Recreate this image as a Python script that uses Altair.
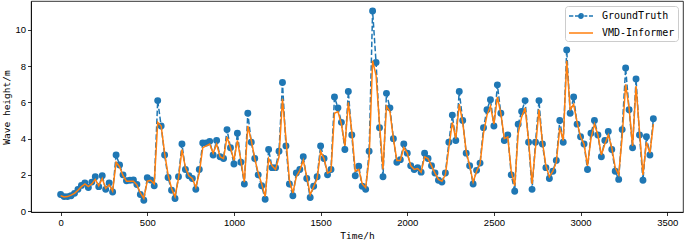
import altair as alt
import pandas as pd

# Significant wave height, one value every 20 h
STEP_H = 20
ground_truth = [
    0.92, 0.80, 0.80, 0.85, 0.98, 1.20, 1.42, 1.56, 1.30, 1.60,
    1.90, 1.35, 1.95, 1.20, 1.55, 1.05, 3.10, 2.55, 2.00, 1.68,
    1.70, 1.72, 1.47, 0.92, 0.60, 1.84, 1.72, 1.40, 6.10, 4.70,
    3.10, 1.85, 1.15, 0.70, 1.90, 3.70, 2.30, 1.95, 1.80, 1.20,
    2.30, 3.76, 3.76, 3.85, 3.10, 3.90, 3.00, 2.90, 4.50, 3.50,
    2.60, 4.30, 2.70, 1.50, 5.40, 3.80, 2.90, 2.00, 1.40, 0.65,
    3.40, 2.40, 2.40, 3.30, 7.10, 3.60, 1.50, 0.85, 2.10, 2.30,
    3.00, 1.80, 0.75, 1.37, 1.90, 3.60, 2.90, 2.00, 2.30, 6.30,
    5.70, 4.90, 3.40, 6.60, 4.20, 1.95, 2.48, 1.37, 1.20, 3.30,
    11.05, 8.20, 4.60, 1.90, 6.50, 5.70, 4.00, 2.70, 2.84, 3.70,
    3.20, 2.50, 2.30, 2.40, 2.15, 3.20, 2.90, 2.50, 2.10, 1.70,
    1.60, 2.10, 3.80, 5.30, 3.90, 6.60, 5.00, 3.20, 2.50, 1.50,
    2.25, 2.65, 4.60, 5.60, 6.15, 4.70, 6.97, 5.40, 3.90, 4.20,
    2.00, 1.10, 4.80, 5.50, 6.10, 3.80, 1.20, 3.80, 6.10, 3.70,
    2.40, 1.80, 2.20, 2.80, 5.00, 3.80, 8.90, 5.40, 6.30, 4.80,
    4.10, 3.70, 2.30, 4.30, 5.00, 4.20, 3.00, 3.90, 4.40, 3.40,
    2.20, 1.75, 4.50, 7.90, 5.60, 3.50, 7.30, 4.20, 1.70, 4.10,
    3.10, 5.10,
]
vmd_informer = [
    0.85, 0.78, 0.80, 0.88, 0.98, 1.15, 1.35, 1.50, 1.35, 1.50,
    1.75, 1.40, 1.80, 1.25, 1.45, 1.10, 2.70, 2.45, 1.95, 1.65,
    1.65, 1.65, 1.45, 1.00, 0.70, 1.65, 1.70, 1.50, 4.90, 4.70,
    3.20, 2.00, 1.25, 0.80, 1.80, 3.40, 2.40, 1.95, 1.80, 1.30,
    2.10, 3.50, 3.60, 3.70, 3.20, 3.70, 3.00, 2.90, 4.10, 3.50,
    2.80, 3.90, 2.80, 1.60, 4.70, 3.90, 2.90, 2.10, 1.50, 0.80,
    2.90, 2.50, 2.30, 3.00, 6.20, 4.00, 1.70, 1.00, 1.90, 2.25,
    2.80, 1.90, 0.90, 1.35, 1.80, 3.30, 2.90, 2.10, 2.20, 5.40,
    5.50, 4.80, 3.60, 6.00, 4.40, 2.20, 2.30, 1.50, 1.30, 2.90,
    8.30, 7.50, 4.80, 2.30, 5.80, 5.50, 4.00, 2.80, 2.80, 3.50,
    3.20, 2.50, 2.30, 2.35, 2.15, 3.00, 2.90, 2.50, 2.10, 1.75,
    1.65, 2.00, 3.50, 4.90, 4.00, 5.90, 4.90, 3.30, 2.50, 1.60,
    2.20, 2.60, 4.30, 5.30, 5.80, 4.80, 6.30, 5.40, 4.00, 4.10,
    2.20, 1.40, 4.30, 5.20, 5.70, 3.90, 1.50, 3.50, 5.60, 3.80,
    2.50, 1.90, 2.20, 2.70, 4.60, 3.90, 8.30, 5.60, 5.90, 4.90,
    4.10, 3.70, 2.50, 4.00, 4.80, 4.20, 3.10, 3.70, 4.20, 3.50,
    2.40, 2.00, 4.10, 7.00, 5.70, 3.60, 6.90, 4.40, 2.00, 3.80,
    3.20, 4.80,
]
series_names = ["GroundTruth", "VMD-Informer"]
series_colors = ["#1f77b4", "#ff7f0e"]
x_ticks = [0, 500, 1000, 1500, 2000, 2500, 3000, 3500]
y_ticks = [0, 2, 4, 6, 8, 10]

n = len(ground_truth)
hours = [STEP_H * i for i in range(n)]
df = pd.DataFrame({
    "hour": hours + hours[: len(vmd_informer)],
    "value": ground_truth + vmd_informer,
    "series": [series_names[0]] * n + [series_names[1]] * len(vmd_informer),
})

MONO = "DejaVu Sans Mono"
SANS = "Liberation Sans"

x_enc = alt.X(
    "hour:Q",
    scale=alt.Scale(domain=[-171, 3591], nice=False, zero=False),
    axis=alt.Axis(values=x_ticks, format="d", title="Time/h", titleY=23, titleBaseline="middle"),
)
y_enc = alt.Y(
    "value:Q",
    scale=alt.Scale(domain=[-0.05, 11.6], nice=False, zero=False),
    axis=alt.Axis(values=y_ticks, format="d", title="Wave height/m", titleX=-25, titleY=106,
                  titleBaseline="middle", titleAngle=270),
)


def ring(cx, r):
    return "M%g,0A%g,%g,0,1,1,%g,0A%g,%g,0,1,1,%g,0" % (cx + r, r, r, cx - r, r, r, cx + r)


# legend glyphs: dashed line with a dot marker, and a plain line
gt_path = "M-1,0H-0.28M0,0H0.55M1.55,0H2.05M2.33,0H3" + ring(1.0, 0.36) + ring(1.0, 0.14)
pred_path = "M-1,0H3"

legend = alt.Legend(
    title=None,
    orient="top-right",
    offset=5,
    padding=3,
    rowPadding=4,
    symbolSize=144,
    symbolStrokeWidth=1.5,
    symbolOpacity=1,
    labelOffset=20,
    labelFont=MONO,
    labelFontSize=10,
    labelColor="black",
    strokeColor="#cccccc",
    fillColor="rgba(255,255,255,0.8)",
    cornerRadius=3,
)

color_enc = alt.Color("series:N", scale=alt.Scale(domain=series_names, range=series_colors), legend=legend)
shape_enc = alt.Shape("series:N", scale=alt.Scale(domain=series_names, range=[gt_path, pred_path]), legend=legend)

base = alt.Chart(df)
gt = base.transform_filter(alt.datum.series == "GroundTruth")
pred = base.transform_filter(alt.datum.series == "VMD-Informer")

gt_line = gt.mark_line(strokeWidth=1.5, strokeDash=[5.5, 2.4], color=series_colors[0]).encode(x=x_enc, y=y_enc)
gt_pts = gt.mark_circle(size=48, opacity=1, color=series_colors[0]).encode(x=x_enc, y=y_enc)
pred_line = pred.mark_line(strokeWidth=1.5, color=series_colors[1]).encode(x=x_enc, y=y_enc)
# legend carrier: no rows survive the filter, the legend comes from the fixed scale domains
legend_layer = base.transform_filter("false").mark_point(filled=False, strokeWidth=1.5).encode(
    x=x_enc, y=y_enc, color=color_enc, shape=shape_enc
)

chart = (
    alt.layer(gt_line, gt_pts, pred_line, legend_layer)
    .properties(
        width=652,
        height=211,
        padding={"left": 31, "top": 1, "right": 2, "bottom": 28},
        autosize=alt.AutoSizeParams(type="none"),
        background="white",
    )
    .configure_view(stroke="black", strokeWidth=0.8)
    .configure_axis(
        grid=False,
        domainColor="black",
        domainWidth=0.8,
        tickColor="black",
        tickWidth=0.8,
        tickSize=3.5,
        labelPadding=2,
        labelFont=SANS,
        labelFontSize=9.5,
        labelColor="black",
        titleFont=MONO,
        titleFontSize=9.5,
        titleFontWeight="normal",
        titleColor="black",
    )
)

chart.save("out.html", embed_options={"renderer": "svg", "actions": False})
